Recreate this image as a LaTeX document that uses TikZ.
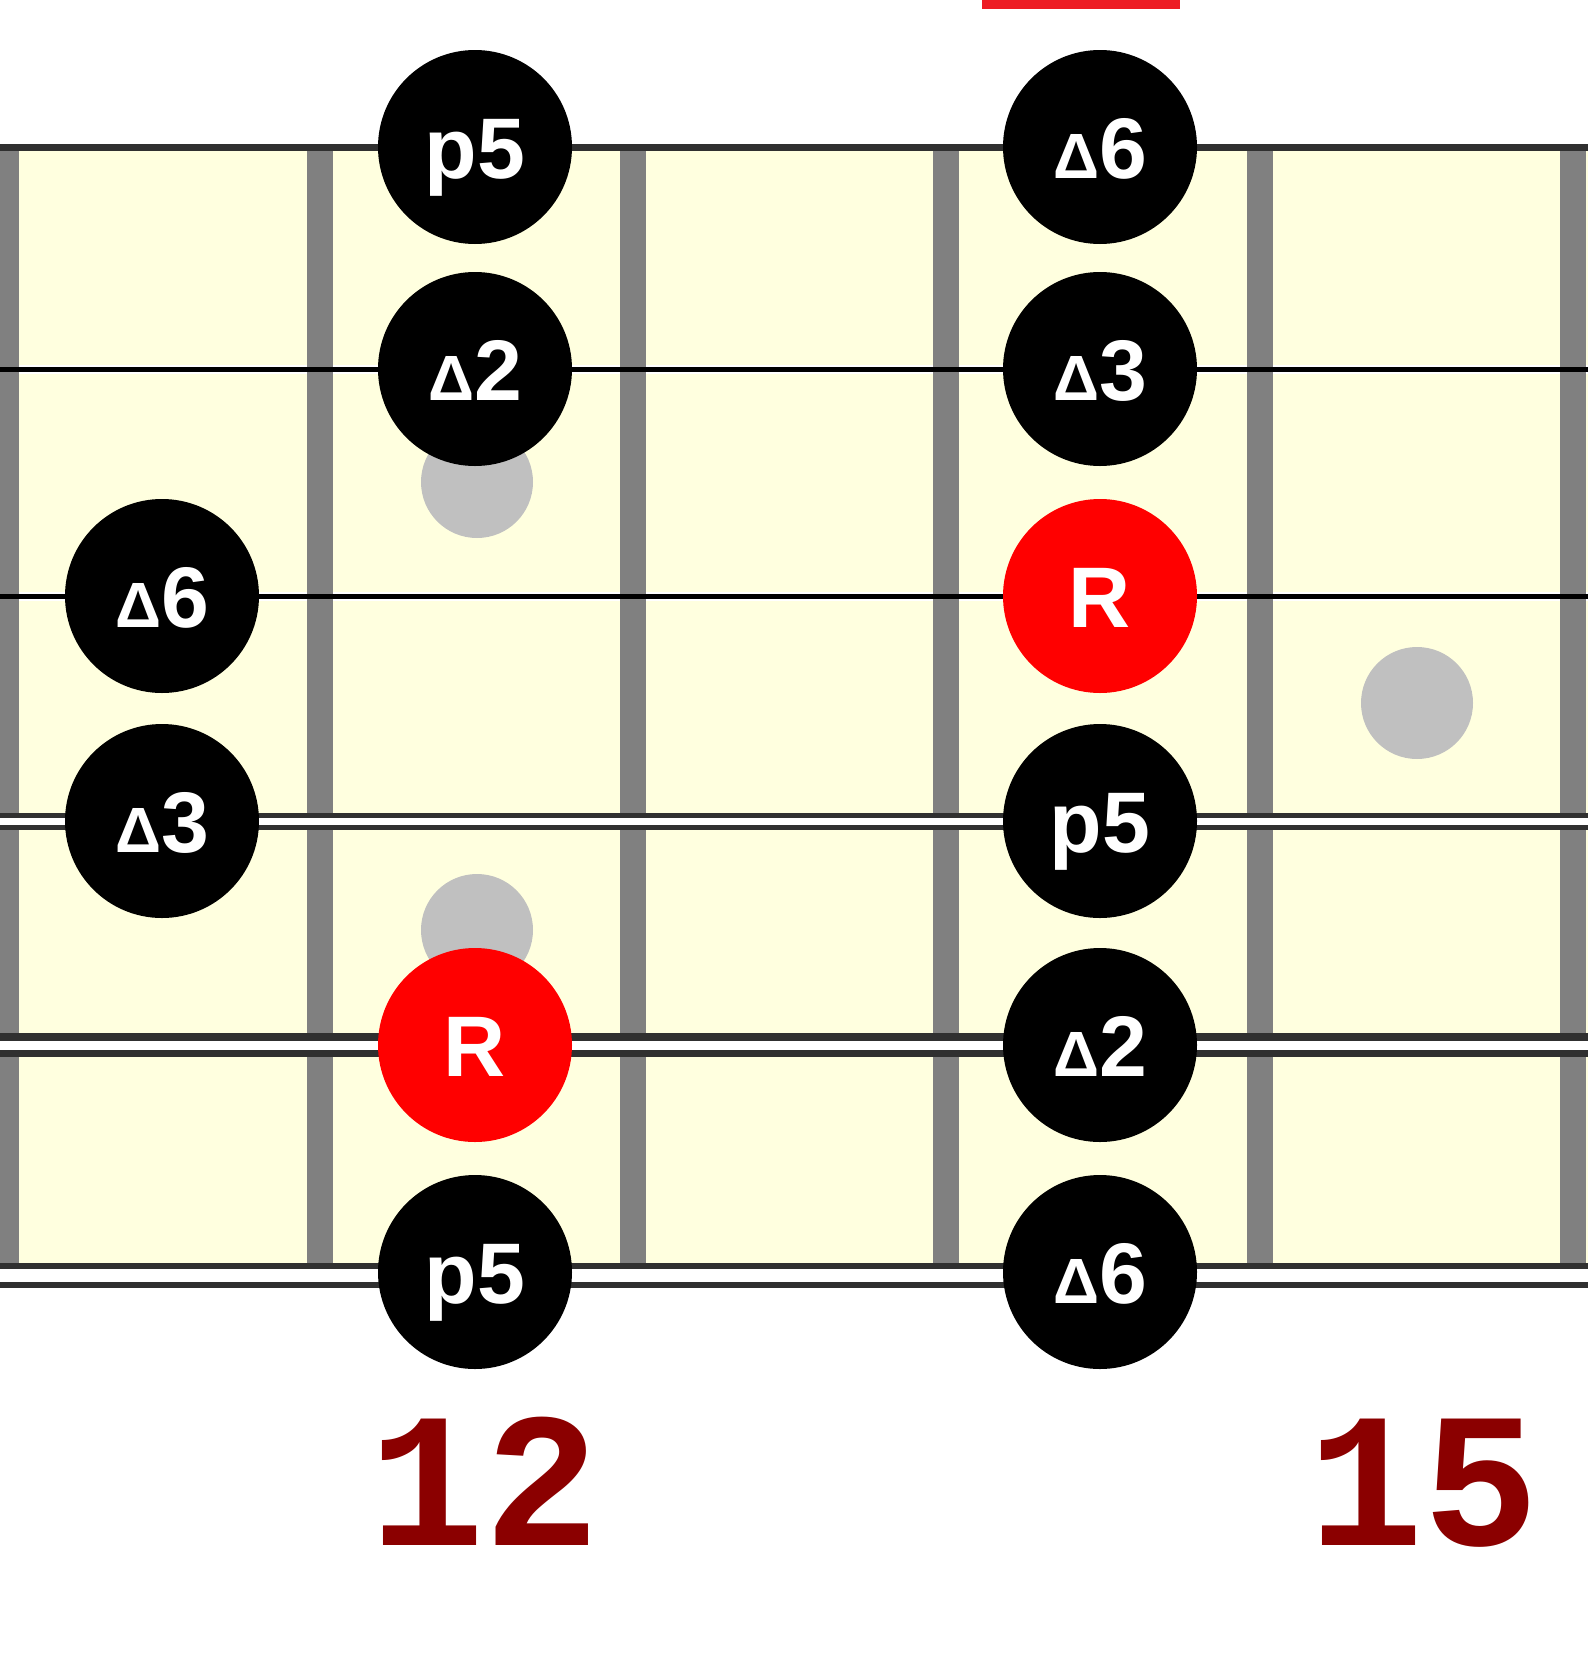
\documentclass[tikz,border=0pt]{standalone}
\usepackage{fontspec}
\setmainfont{Liberation Sans}
\newfontfamily\fretfont{Liberation Mono}
\definecolor{cream}{HTML}{FFFFDF}
\definecolor{fretgray}{HTML}{808080}
\definecolor{inlaygray}{HTML}{C0C0C0}
\definecolor{notered}{HTML}{FF0000}
\definecolor{fretred}{HTML}{8B0000}
\definecolor{topred}{HTML}{ED1C24}
\definecolor{stringdark}{HTML}{303030}
\newcommand\mytri{{\fontsize{64}{64}\selectfont Δ}}
\begin{document}
\begin{tikzpicture}[x=1pt,y=-1pt,
  note/.style={circle,fill=black,minimum size=194pt,inner sep=0pt,text=white,
    font=\fontsize{86}{86}\selectfont\bfseries,text height=62pt,text depth=0pt},
  root/.style={note,fill=notered},
  inlay/.style={circle,fill=inlaygray,minimum size=112pt,inner sep=0pt},
  fretnum/.style={text=fretred,font=\fretfont\bfseries\fontsize{192}{192}\selectfont,anchor=base,inner sep=0pt},
  fretbar/.style={fill=fretgray},
  plain string/.style={line width=5pt,draw=black},
  halo/.style={line width=9pt,draw=white},
  wound/.style={line width=#1,draw=stringdark}
]
\useasboundingbox (0,0) rectangle (1588,1655);
\fill[white] (0,0) rectangle (1588,1655);
\fill[cream] (0,147) rectangle (1588,1275);
\fill[topred] (982,0) rectangle (1180,9);
% string halos under the frets
\draw[halo] (0,369) -- (1588,369);
\draw[halo] (0,596) -- (1588,596);
% frets
\foreach \x in {6,320,633,946,1260,1573}
  \fill[fretbar] (\x-13,147) rectangle (\x+13,1275);
% inlays
\node[inlay] (d1) at (477,482) {};
\node[inlay] (d2) at (477,930) {};
\node[inlay] (d3) at (1417,703) {};
% strings
\draw[line width=7pt,draw=stringdark] (0,147) -- (1588,147);
\draw[plain string] (0,369) -- (1588,369);
\draw[plain string] (0,596) -- (1588,596);
\draw[wound=17pt] (0,821) -- (1588,821);
\draw[white,line width=7pt] (0,821) -- (1588,821);
\draw[wound=24pt] (0,1045) -- (1588,1045);
\draw[white,line width=9pt] (0,1045) -- (1588,1045);
\draw[wound=25pt] (0,1275) -- (1588,1275);
\draw[white,line width=13pt] (0,1275) -- (1588,1275);
% notes
\node[note] (n1a) at (475,147) {p5};
\node[note] (n1b) at (1100,147) {\mytri6};
\node[note] (n2a) at (475,369) {\mytri2};
\node[note] (n2b) at (1100,369) {\mytri3};
\node[note] (n3a) at (162,596) {\mytri6};
\node[root] (n3b) at (1100,596) {R};
\node[note] (n4a) at (162,821) {\mytri3};
\node[note] (n4b) at (1100,821) {p5};
\node[root] (n5a) at (475,1045) {R};
\node[note] (n5b) at (1100,1045) {\mytri2};
\node[note] (n6a) at (475,1272) {p5};
\node[note] (n6b) at (1100,1272) {\mytri6};
% fret numbers
\node[fretnum] (f12) at (485,1545) {12};
\node[fretnum] (f15) at (1424,1545) {15};
\end{tikzpicture}
\end{document}
